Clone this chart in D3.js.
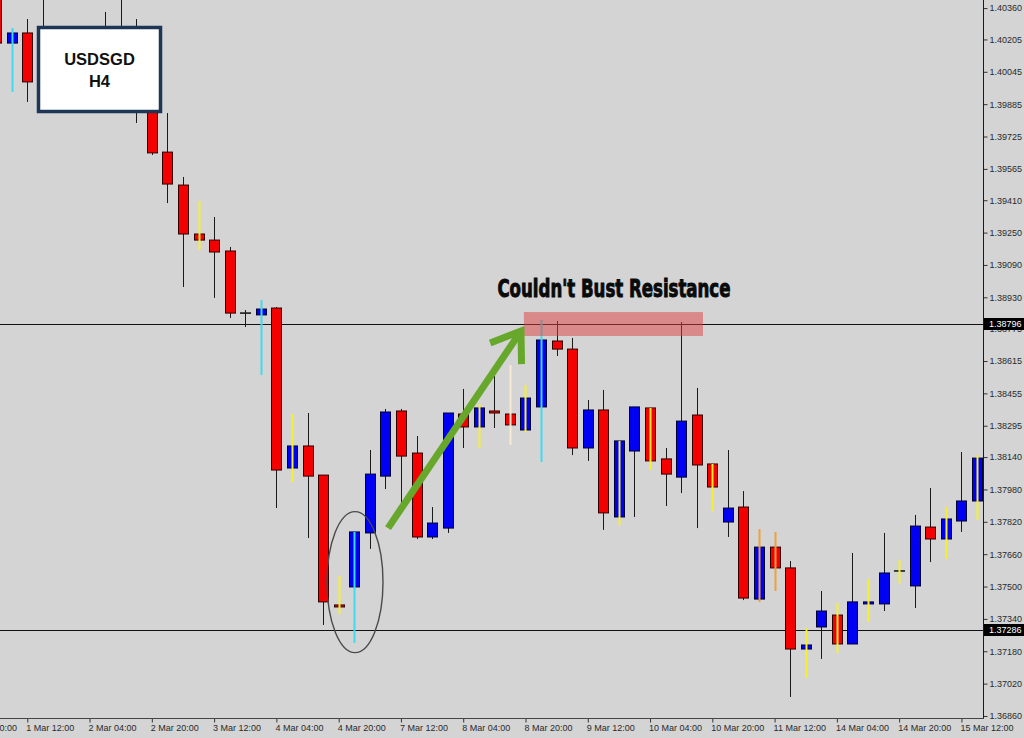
<!DOCTYPE html>
<html>
<head>
<meta charset="utf-8">
<script src="https://cdn.jsdelivr.net/npm/d3@7"></script>
<style>
html, body { margin: 0; padding: 0; background: #d4d4d4; overflow: hidden; }
svg { display: block; }
</style>
</head>
<body>
<svg id="chart"></svg>
<script>
// USDSGD H4 - bar 0 is 1 Mar 08:00, bar -1 is cut off at the left edge
const firstBar = -1

const opens = [1.40548, 1.40187, 1.40237, 1.39995, 1.40252, 1.40103, 1.40202, 1.40227, 1.40153, 1.40202,
    1.39906, 1.39648, 1.39485, 1.39243, 1.39213, 1.39159, 1.38852, 1.38843, 1.38877, 1.38086,
    1.38195, 1.38051, 1.37409, 1.37498, 1.37765, 1.38046, 1.38368, 1.38160, 1.37745, 1.37789,
    1.38353, 1.38289, 1.38368, 1.38353, 1.38274, 1.38388, 1.38714, 1.38674, 1.38185, 1.38373,
    1.37844, 1.38170, 1.38383, 1.38131, 1.38041, 1.38348, 1.38106, 1.37819, 1.37893, 1.37438,
    1.37695, 1.37592, 1.37191, 1.37300, 1.37359, 1.37216, 1.37414, 1.37414, 1.37577, 1.37503,
    1.37794, 1.37735, 1.37824, 1.37923]

const highs = [1.40598, 1.40262, 1.40306, 1.40474, 1.40262, 1.40227, 1.40252, 1.40341, 1.40449, 1.40306,
    1.39906, 1.39841, 1.39525, 1.39406, 1.39327, 1.39179, 1.38867, 1.38917, 1.38882, 1.38353,
    1.38358, 1.38051, 1.37552, 1.37770, 1.38175, 1.38378, 1.38378, 1.38244, 1.37893, 1.38358,
    1.38477, 1.38402, 1.38541, 1.38595, 1.38496, 1.38818, 1.38813, 1.38729, 1.38422, 1.38472,
    1.38220, 1.38388, 1.38383, 1.38185, 1.38808, 1.38482, 1.38106, 1.38175, 1.37972, 1.37784,
    1.37770, 1.37626, 1.37295, 1.37478, 1.37419, 1.37666, 1.37537, 1.37765, 1.37631, 1.37854,
    1.37987, 1.37893, 1.38165, 1.38150]

const lows = [1.40187, 1.39945, 1.39896, 1.39965, 1.40054, 1.40029, 1.40128, 1.40103, 1.40079, 1.39792,
    1.39634, 1.39396, 1.38981, 1.39164, 1.38927, 1.38828, 1.38783, 1.38546, 1.37888, 1.38017,
    1.37740, 1.37310, 1.37364, 1.37221, 1.37686, 1.37982, 1.37913, 1.37735, 1.37735, 1.37765,
    1.38185, 1.38185, 1.38284, 1.38200, 1.38264, 1.38116, 1.38640, 1.38150, 1.38121, 1.37780,
    1.37804, 1.37844, 1.38076, 1.37898, 1.37962, 1.37789, 1.37873, 1.37745, 1.37433, 1.37424,
    1.37478, 1.36954, 1.37048, 1.37142, 1.37171, 1.37216, 1.37325, 1.37379, 1.37517, 1.37394,
    1.37621, 1.37636, 1.37770, 1.37829]

const closes = [1.40187, 1.40237, 1.39995, 1.40252, 1.40103, 1.40202, 1.40227, 1.40153, 1.40202, 1.39906,
    1.39644, 1.39490, 1.39243, 1.39213, 1.39154, 1.38852, 1.38852, 1.38872, 1.38076, 1.38195,
    1.38046, 1.37424, 1.37399, 1.37770, 1.38056, 1.38363, 1.38145, 1.37745, 1.37814, 1.38358,
    1.38289, 1.38383, 1.38358, 1.38299, 1.38432, 1.38719, 1.38674, 1.38185, 1.38373, 1.37864,
    1.38220, 1.38388, 1.38121, 1.38056, 1.38318, 1.38101, 1.37992, 1.37888, 1.37443, 1.37695,
    1.37592, 1.37191, 1.37211, 1.37379, 1.37216, 1.37424, 1.37424, 1.37567, 1.37577, 1.37799,
    1.37735, 1.37834, 1.37923, 1.38135]

// indicator flag per bar: "" none, c tail, y inside/indecision, o, w
const signals = ["", "c", "", "", "", "", "", "", "", "",
    "", "", "", "y", "", "", "", "c", "", "y",
    "", "", "y", "c", "", "", "", "", "", "",
    "", "y", "", "w", "y", "c", "", "", "", "",
    "y", "", "y", "", "", "", "y", "", "", "o",
    "o", "", "y", "", "y", "", "y", "", "y", "",
    "", "y", "", "y"]

const tickBars = [-3, 1, 5, 9, 13, 17, 21, 25, 29, 33, 37, 41, 45, 49, 53, 57, 61]
const tickLabels = ["29 Feb 20:00", "1 Mar 12:00", "2 Mar 04:00", "2 Mar 20:00", "3 Mar 12:00",
    "4 Mar 04:00", "4 Mar 20:00", "7 Mar 12:00", "8 Mar 04:00", "8 Mar 20:00", "9 Mar 12:00",
    "10 Mar 04:00", "10 Mar 20:00", "11 Mar 12:00", "14 Mar 04:00", "14 Mar 20:00", "15 Mar 12:00"]

const priceTicks = [1.40360, 1.40205, 1.40045, 1.39885, 1.39725, 1.39565, 1.39410, 1.39250, 1.39090,
    1.38930, 1.38775, 1.38615, 1.38455, 1.38295, 1.38140, 1.37980, 1.37820, 1.37660, 1.37500,
    1.37340, 1.37180, 1.37020, 1.36860]

const levels = [1.38796, 1.37286]

// annotations, in bar / price units
const zoneBars = [32.9, 44.4]
const zonePrices = [1.38739, 1.38857]
const arrowFrom = [24.17, 1.37789]
const arrowTo = [32.71, 1.38763]
const circled = [22.05, 1.37522]

const width = 1024
const height = 738
const plotRight = 983
const plotBottom = 718

const svg = d3.select('#chart')
    .attr('width', width)
    .attr('height', height)

svg.append('rect')
    .attr('width', width)
    .attr('height', height)
    .attr('fill', '#d4d4d4')

const x = d3.scaleLinear().domain([0, 62]).range([11.7, 977])
const y = d3.scaleLinear().domain([1.36850, 1.40400]).range([plotBottom, 0])

const bars = opens.map((o, i) => ({
    k: firstBar + i,
    o: o,
    h: highs[i],
    l: lows[i],
    c: closes[i],
    s: signals[i]
}))

const wickColour = { c: '#3fdcef', y: '#f4f030', o: '#eea23a', w: '#f6ead2' }

svg.append('clipPath').attr('id', 'plot')
    .append('rect')
    .attr('width', plotRight)
    .attr('height', plotBottom)

const plot = svg.append('g').attr('clip-path', 'url(#plot)')

// level lines
plot.selectAll('.level')
    .data(levels)
    .enter().append('line')
    .attr('class', 'level')
    .attr('x1', 0)
    .attr('x2', plotRight)
    .attr('y1', d => Math.round(y(d)) + 0.5)
    .attr('y2', d => Math.round(y(d)) + 0.5)
    .attr('stroke', '#111')
    .attr('stroke-width', 1)

const px = d => Math.round(x(d.k)) + 0.5

// plain wicks behind the bodies
plot.selectAll('.wick')
    .data(bars.filter(d => !d.s))
    .enter().append('line')
    .attr('class', 'wick')
    .attr('x1', px)
    .attr('x2', px)
    .attr('y1', d => y(d.h))
    .attr('y2', d => y(d.l))
    .attr('stroke', '#1a1a1a')
    .attr('stroke-width', 1)

// bodies
plot.selectAll('.body')
    .data(bars.filter(d => d.o !== d.c))
    .enter().append('rect')
    .attr('class', 'body')
    .attr('x', d => Math.round(x(d.k)) - 4.5)
    .attr('width', 10)
    .attr('y', d => y(Math.max(d.o, d.c)))
    .attr('height', d => Math.max(1, Math.abs(y(d.o) - y(d.c))))
    .attr('fill', d => d.c > d.o ? '#0000f2' : '#f40000')
    .attr('stroke', d => d.c > d.o ? '#000030' : '#300000')
    .attr('stroke-width', 1)

// doji bars
plot.selectAll('.doji')
    .data(bars.filter(d => d.o === d.c))
    .enter().append('line')
    .attr('class', 'doji')
    .attr('x1', d => Math.round(x(d.k)) - 5)
    .attr('x2', d => Math.round(x(d.k)) + 6)
    .attr('y1', d => y(d.o))
    .attr('y2', d => y(d.o))
    .attr('stroke', '#1a1a1a')
    .attr('stroke-width', 1.6)

// coloured wicks drawn over the bodies
plot.selectAll('.signal')
    .data(bars.filter(d => d.s))
    .enter().append('line')
    .attr('class', 'signal')
    .attr('x1', d => Math.round(x(d.k)) + 0.5)
    .attr('x2', d => Math.round(x(d.k)) + 0.5)
    .attr('y1', d => y(d.h))
    .attr('y2', d => y(d.l))
    .attr('stroke', d => wickColour[d.s])
    .attr('stroke-width', 2)

// resistance zone
plot.append('rect')
    .attr('x', x(zoneBars[0]))
    .attr('width', x(zoneBars[1]) - x(zoneBars[0]))
    .attr('y', y(zonePrices[1]))
    .attr('height', y(zonePrices[0]) - y(zonePrices[1]))
    .attr('fill', 'rgb(222,62,62)')
    .attr('fill-opacity', 0.5)

plot.append('text')
    .attr('x', x((zoneBars[0] + zoneBars[1]) / 2) + 0.5)
    .attr('y', 297)
    .attr('text-anchor', 'middle')
    .attr('textLength', 233)
    .attr('lengthAdjust', 'spacingAndGlyphs')
    .style('font-family', '"Liberation Sans Narrow", "DejaVu Sans Condensed", "Liberation Sans", sans-serif')
    .style('font-weight', 'bold')
    .style('font-size', '24px')
    .attr('fill', '#0a0a0a')
    .attr('stroke', '#0a0a0a')
    .attr('stroke-width', 0.9)
    .text("Couldn't Bust Resistance")

// green arrow
const ax0 = x(arrowFrom[0]), ay0 = y(arrowFrom[1])
const ax1 = x(arrowTo[0]), ay1 = y(arrowTo[1])
const hoek = Math.atan2(ay0 - ay1, ax0 - ax1)
const kop = 33
const spreiding = 35 * Math.PI / 180
plot.append('line')
    .attr('x1', ax0).attr('y1', ay0)
    .attr('x2', ax1 - 3 * Math.cos(hoek + Math.PI)).attr('y2', ay1 - 3 * Math.sin(hoek + Math.PI))
    .attr('stroke', '#67a82c')
    .attr('stroke-width', 7)
plot.append('path')
    .attr('d', d3.line()([
        [ax1 + kop * Math.cos(hoek + spreiding), ay1 + kop * Math.sin(hoek + spreiding)],
        [ax1, ay1],
        [ax1 + kop * Math.cos(hoek - spreiding), ay1 + kop * Math.sin(hoek - spreiding)]
    ]))
    .attr('fill', 'none')
    .attr('stroke', '#67a82c')
    .attr('stroke-width', 7)
    .attr('stroke-linejoin', 'miter')

// circle round the reversal bars
plot.append('ellipse')
    .attr('cx', x(circled[0]))
    .attr('cy', y(circled[1]))
    .attr('rx', 28)
    .attr('ry', 70.5)
    .attr('fill', 'none')
    .attr('stroke', '#4a4a4a')
    .attr('stroke-width', 1.4)

// label box
const box = svg.append('g')
box.append('rect')
    .attr('x', 38.5).attr('y', 27.5)
    .attr('width', 122).attr('height', 84)
    .attr('fill', '#ffffff')
    .attr('stroke', '#1d3656')
    .attr('stroke-width', 3.5)
box.selectAll('text')
    .data(['USDSGD', 'H4'])
    .enter().append('text')
    .attr('x', 99.5)
    .attr('y', (d, i) => 65 + i * 22)
    .attr('text-anchor', 'middle')
    .style('font-family', '"Liberation Sans", Arial, sans-serif')
    .style('font-weight', 'bold')
    .style('font-size', '16.5px')
    .attr('fill', '#111')
    .text(d => d)

// axes
const yAxis = d3.axisRight(y)
    .tickValues(priceTicks)
    .tickFormat(d3.format('.5f'))
    .tickSize(4)
    .tickSizeOuter(0)
    .tickPadding(2)

const xAxis = d3.axisBottom(x)
    .tickValues(tickBars)
    .tickFormat((d, i) => tickLabels[i])
    .tickSize(4)
    .tickSizeOuter(0)
    .tickPadding(2)

const yg = svg.append('g')
    .attr('transform', `translate(${plotRight + 0.5},0)`)
    .call(yAxis)
const xg = svg.append('g')
    .attr('transform', `translate(0,${plotBottom + 0.5})`)
    .call(xAxis)

xg.selectAll('.tick text').attr('text-anchor', 'start').attr('dx', -1.5)
;[yg, xg].forEach(g => {
    g.select('.domain').remove()
    g.selectAll('.tick line').attr('stroke', '#333')
    g.selectAll('.tick text')
        .attr('fill', '#2a2a2a')
        .style('font-family', '"Liberation Sans", Arial, sans-serif')
        .style('font-size', '9px')
})

svg.append('line')
    .attr('x1', plotRight + 0.5).attr('x2', plotRight + 0.5)
    .attr('y1', 0).attr('y2', plotBottom + 1)
    .attr('stroke', '#1a1a1a')
svg.append('line')
    .attr('x1', 0).attr('x2', plotRight + 1)
    .attr('y1', plotBottom + 0.5).attr('y2', plotBottom + 0.5)
    .attr('stroke', '#444')

// price tags for the two levels
const tags = svg.selectAll('.tag')
    .data(levels)
    .enter().append('g')
    .attr('class', 'tag')
    .attr('transform', d => `translate(${plotRight + 1},${Math.round(y(d))})`)
tags.append('rect')
    .attr('x', 0).attr('y', -6)
    .attr('width', width - plotRight - 1)
    .attr('height', 12)
    .attr('fill', '#000')
tags.append('text')
    .attr('x', 5)
    .attr('dy', '0.34em')
    .attr('fill', '#fff')
    .style('font-family', '"Liberation Sans", Arial, sans-serif')
    .style('font-size', '9px')
    .text(d => d3.format('.5f')(d))
</script>
</body>
</html>
